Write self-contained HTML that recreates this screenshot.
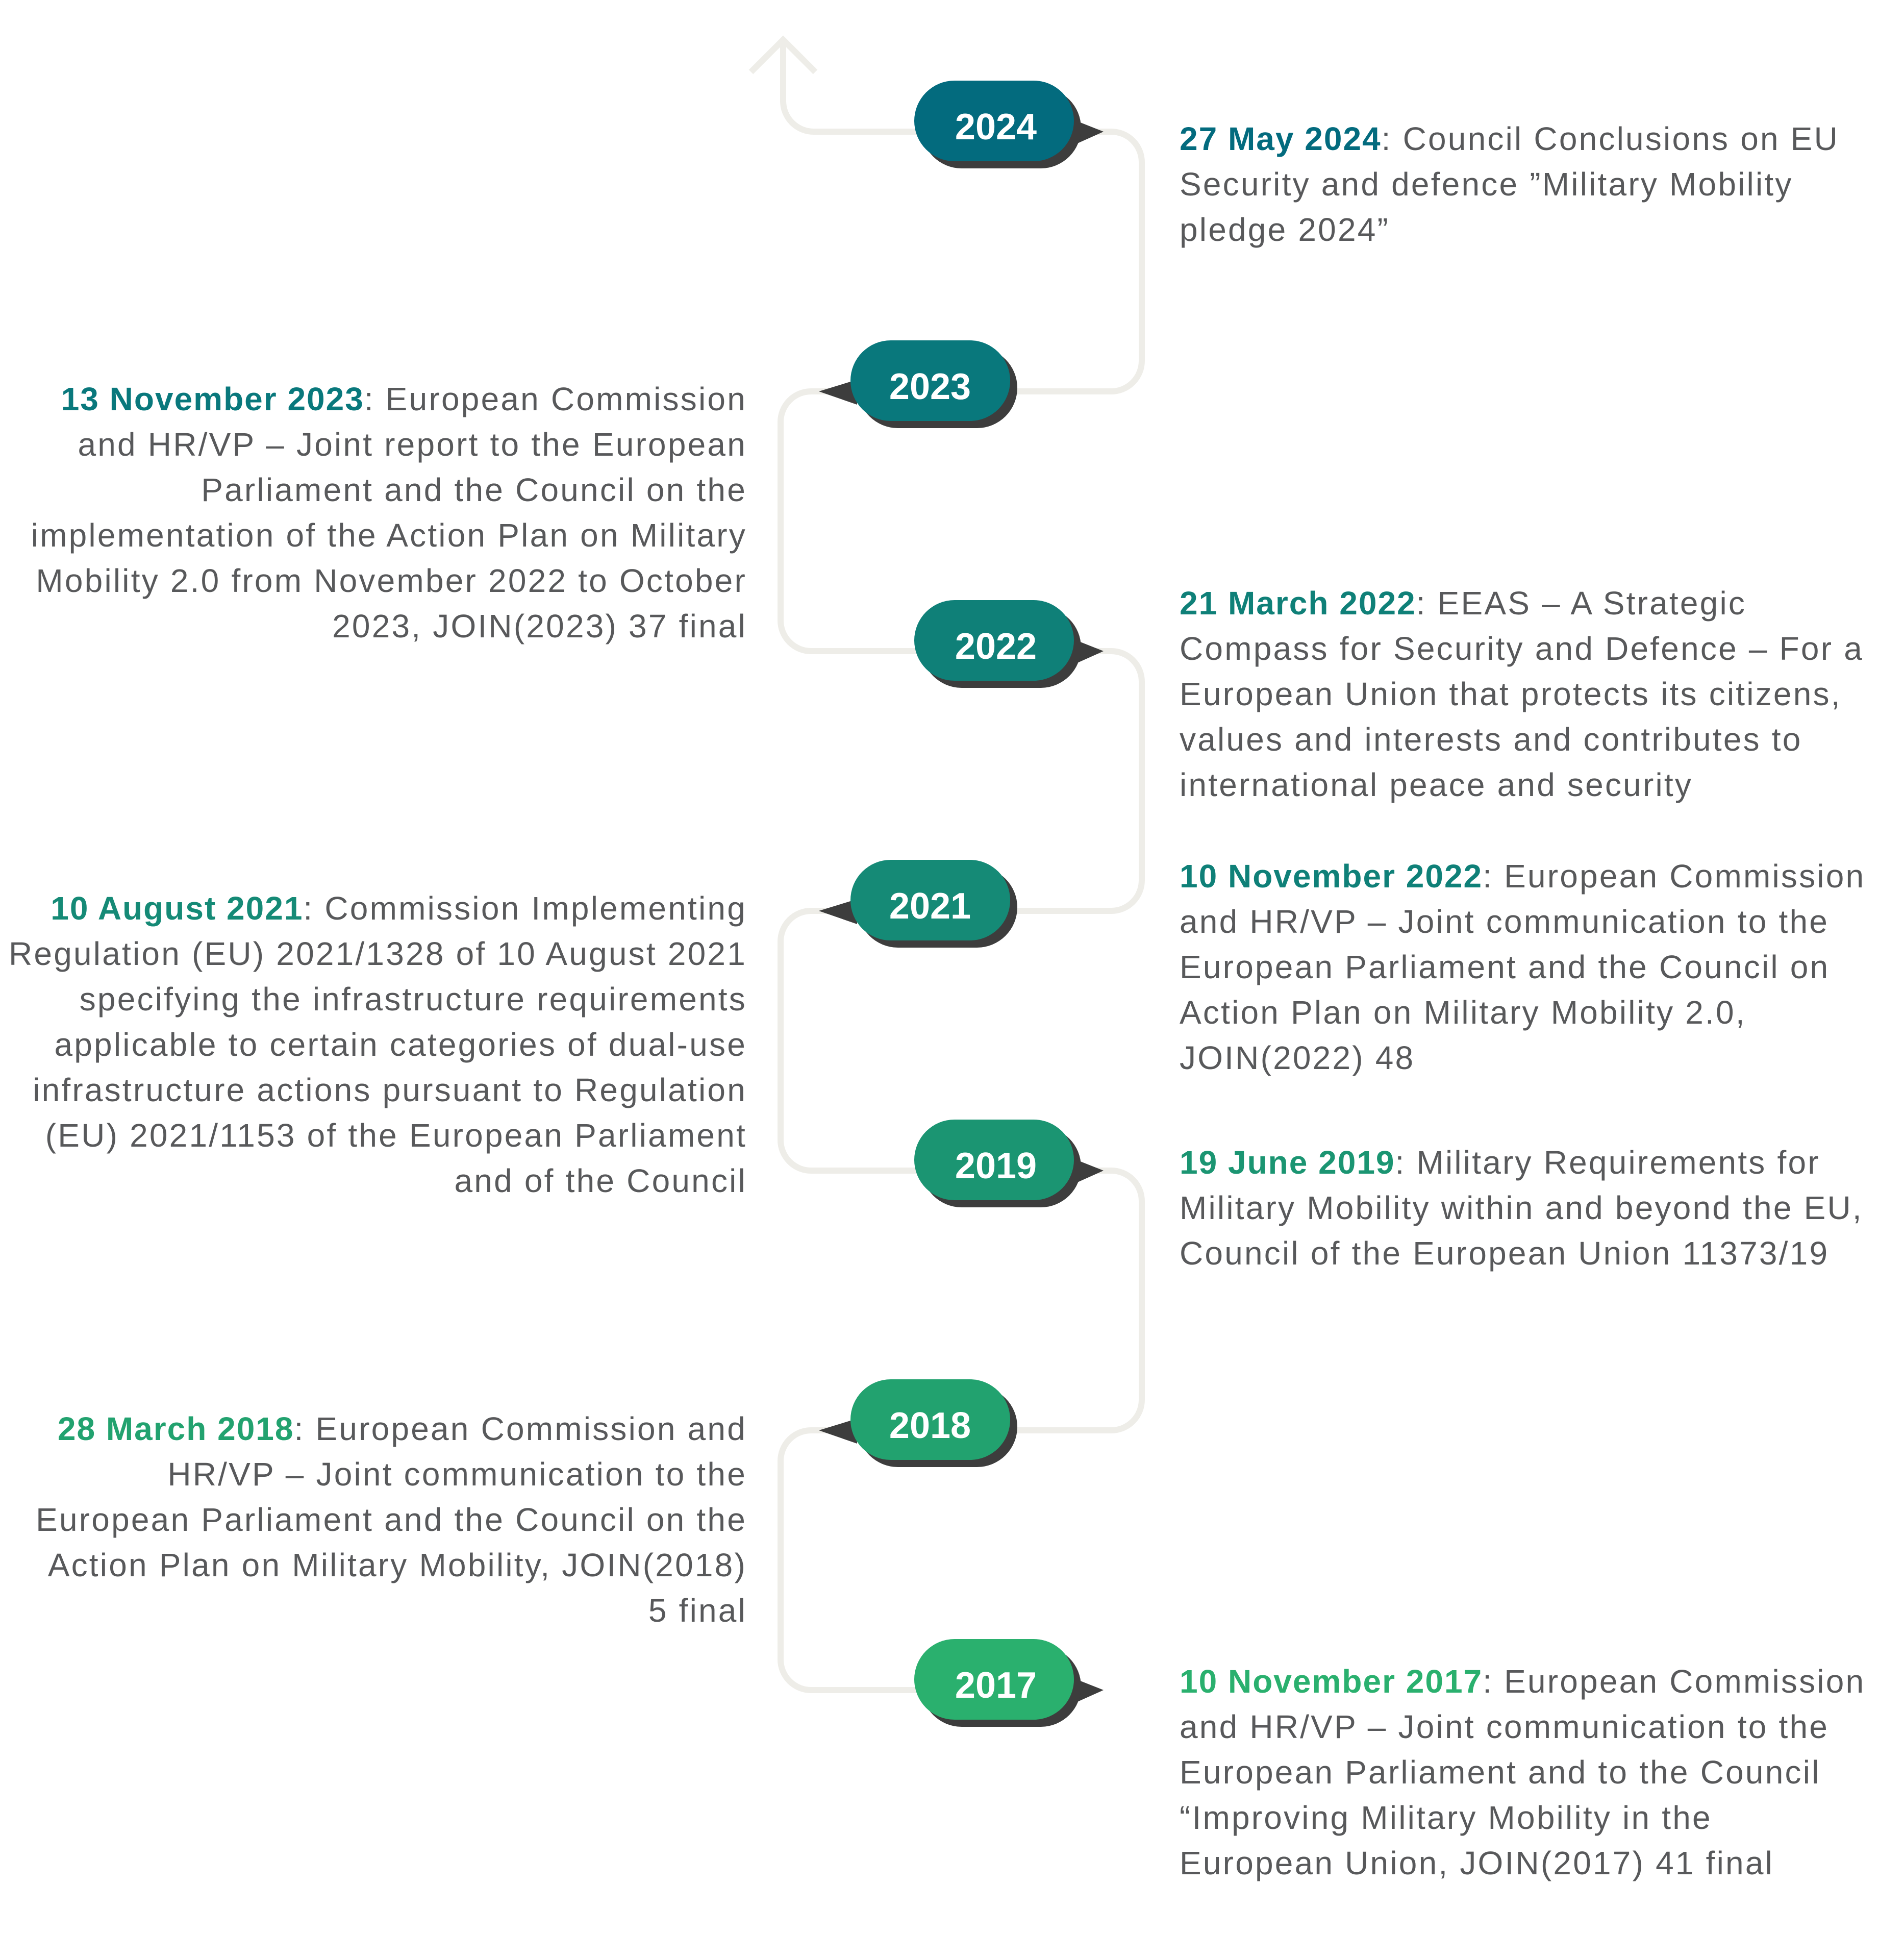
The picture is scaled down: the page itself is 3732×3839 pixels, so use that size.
<!DOCTYPE html>
<html><head><meta charset="utf-8"><style>
html,body{margin:0;padding:0;background:#fff;}
body{width:3732px;height:3839px;position:relative;overflow:hidden;font-family:"Liberation Sans",sans-serif;}
.t{position:absolute;font-size:64px;line-height:89px;color:#58595b;white-space:nowrap;letter-spacing:3.2px;}
.r{left:2312px;text-align:left;}
.l{right:2268px;text-align:right;}
.t b{font-weight:bold;letter-spacing:2px;}
</style></head><body>
<svg width="3732" height="3839" style="position:absolute;left:0;top:0">
<g fill="none" stroke="#eeede8" stroke-width="12" stroke-linecap="butt">
<path d="M1472,141 L1535,78 L1598,141"/>
<path d="M1535,78 V198 A60,60 0 0 0 1595,258 H2178 A60,60 0 0 1 2238,318 V707 A60,60 0 0 1 2178,767 H1590 A60,60 0 0 0 1530,827 V1216 A60,60 0 0 0 1590,1276 H2178 A60,60 0 0 1 2238,1336 V1725 A60,60 0 0 1 2178,1785 H1590 A60,60 0 0 0 1530,1845 V2234 A60,60 0 0 0 1590,2294 H2178 A60,60 0 0 1 2238,2354 V2743 A60,60 0 0 1 2178,2803 H1590 A60,60 0 0 0 1530,2863 V3252 A60,60 0 0 0 1590,3312 H1900"/>
</g>
<g font-family="Liberation Sans, sans-serif" font-weight="bold" font-size="72" fill="#fff" text-anchor="middle">
<g>
<polygon points="2105,235 2163,258 2105,284" fill="#3d3d3d"/>
<rect x="1806" y="172" width="313" height="158" rx="79" fill="#3d3d3d"/>
<rect x="1792" y="158" width="313" height="158" rx="79" fill="#036b7e"/>
<text x="1952" y="273">2024</text>
</g>
<g transform="translate(0,1018)">
<polygon points="2105,235 2163,258 2105,284" fill="#3d3d3d"/>
<rect x="1806" y="172" width="313" height="158" rx="79" fill="#3d3d3d"/>
<rect x="1792" y="158" width="313" height="158" rx="79" fill="#0f8078"/>
<text x="1952" y="273">2022</text>
</g>
<g transform="translate(0,2036)">
<polygon points="2105,235 2163,258 2105,284" fill="#3d3d3d"/>
<rect x="1806" y="172" width="313" height="158" rx="79" fill="#3d3d3d"/>
<rect x="1792" y="158" width="313" height="158" rx="79" fill="#1b9572"/>
<text x="1952" y="273">2019</text>
</g>
<g transform="translate(0,3054)">
<polygon points="2105,235 2163,258 2105,284" fill="#3d3d3d"/>
<rect x="1806" y="172" width="313" height="158" rx="79" fill="#3d3d3d"/>
<rect x="1792" y="158" width="313" height="158" rx="79" fill="#2ab06e"/>
<text x="1952" y="273">2017</text>
</g>
<g transform="translate(0,509)">
<polygon points="1680,235 1605,258 1680,284" fill="#3d3d3d"/>
<rect x="1681" y="172" width="313" height="158" rx="79" fill="#3d3d3d"/>
<rect x="1667" y="158" width="313" height="158" rx="79" fill="#09787c"/>
<text x="1823" y="273">2023</text>
</g>
<g transform="translate(0,1527)">
<polygon points="1680,235 1605,258 1680,284" fill="#3d3d3d"/>
<rect x="1681" y="172" width="313" height="158" rx="79" fill="#3d3d3d"/>
<rect x="1667" y="158" width="313" height="158" rx="79" fill="#158a76"/>
<text x="1823" y="273">2021</text>
</g>
<g transform="translate(0,2545)">
<polygon points="1680,235 1605,258 1680,284" fill="#3d3d3d"/>
<rect x="1681" y="172" width="313" height="158" rx="79" fill="#3d3d3d"/>
<rect x="1667" y="158" width="313" height="158" rx="79" fill="#22a26f"/>
<text x="1823" y="273">2018</text>
</g>
</g>
</svg>

<div class="t r" style="top:228px"><b style="color:#036b7e">27 May 2024</b>: Council Conclusions on EU<br>Security and defence ”Military Mobility<br>pledge 2024”</div>

<div class="t l" style="top:738px"><b style="color:#09787c">13 November 2023</b>: European Commission<br>and HR/VP – Joint report to the European<br>Parliament and the Council on the<br>implementation of the Action Plan on Military<br>Mobility 2.0 from November 2022 to October<br>2023, JOIN(2023) 37 final</div>

<div class="t r" style="top:1138px"><b style="color:#0f8078">21 March 2022</b>: EEAS – A Strategic<br>Compass for Security and Defence – For a<br>European Union that protects its citizens,<br>values and interests and contributes to<br>international peace and security</div>

<div class="t r" style="top:1673px"><b style="color:#0f8078">10 November 2022</b>: European Commission<br>and HR/VP – Joint communication to the<br>European Parliament and the Council on<br>Action Plan on Military Mobility 2.0,<br>JOIN(2022) 48</div>

<div class="t l" style="top:1736px"><b style="color:#158a76">10 August 2021</b>: Commission Implementing<br>Regulation (EU) 2021/1328 of 10 August 2021<br>specifying the infrastructure requirements<br>applicable to certain categories of dual-use<br>infrastructure actions pursuant to Regulation<br>(EU) 2021/1153 of the European Parliament<br>and of the Council</div>

<div class="t r" style="top:2234px"><b style="color:#1b9572">19 June 2019</b>: Military Requirements for<br>Military Mobility within and beyond the EU,<br>Council of the European Union 11373/19</div>

<div class="t l" style="top:2756px"><b style="color:#22a26f">28 March 2018</b>: European Commission and<br>HR/VP – Joint communication to the<br>European Parliament and the Council on the<br>Action Plan on Military Mobility, JOIN(2018)<br>5 final</div>

<div class="t r" style="top:3251px"><b style="color:#2ab06e">10 November 2017</b>: European Commission<br>and HR/VP – Joint communication to the<br>European Parliament and to the Council<br>“Improving Military Mobility in the<br>European Union, JOIN(2017) 41 final</div>
</body></html>
